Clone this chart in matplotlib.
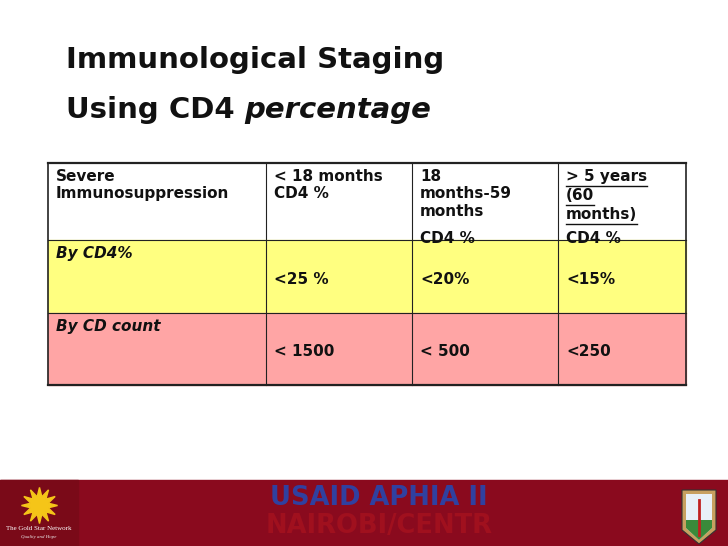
import matplotlib
matplotlib.use("Agg")
import matplotlib.pyplot as plt
from matplotlib.patches import Rectangle, Polygon

title_lines = ["Immunological Staging", "Using CD4 "]
title_italic = "percentage"
header = ["Severe\nImmunosuppression", "< 18 months\nCD4 %", "18\nmonths-59\nmonths"]
header_last = ["> 5 years", "(60", "months)"]
row_labels = ["By CD4%", "By CD count"]
cd4_pct = ["<25 %", "<20%", "<15%"]
cd_count = ["< 1500", "< 500", "<250"]

fig = plt.figure(figsize=(7.28, 5.46), dpi=100)
ax = fig.add_axes([0, 0, 1, 1])
ax.set_xlim(0, 728); ax.set_ylim(546, 0); ax.axis("off")
fn = "DejaVu Sans"
fig.canvas.draw()
r = fig.canvas.get_renderer()
inv = ax.transData.inverted()

def xend(t):
    bb = t.get_window_extent(r)
    return inv.transform((bb.x1, bb.y0))[0]

tk = dict(fontsize=21, fontweight="bold", family=fn, va="center", color="#111")
ax.text(66, 60, title_lines[0], **tk)
t = ax.text(66, 110, title_lines[1], **tk)
ax.text(xend(t), 110, title_italic, style="italic", **tk)

xs = [48, 266, 412, 558, 686]
ys = [163, 240, 313, 385]
ax.add_patch(Rectangle((48, 240), 638, 73, color="#FFFF80", zorder=0))
ax.add_patch(Rectangle((48, 313), 638, 72, color="#FFA5A5", zorder=0))
for x in xs:
    ax.plot([x, x], [163, 385], color="#222", lw=1.2 if x in (48, 686) else 0.8)
for i, y in enumerate(ys):
    ax.plot([48, 686], [y, y], color="#222", lw=1.6 if i in (0, 3) else 0.8)

fs = 11
kw = dict(fontsize=fs, fontweight="bold", family=fn, va="top", linespacing=1.2, color="#111")
for i, h in enumerate(header):
    ax.text(xs[i] + 8, 169, h, **kw)
for i, line in enumerate(header_last):
    t = ax.text(566, 169 + i * 19, line, **kw)
    ax.plot([566, xend(t)], [186 + i * 19, 186 + i * 19], color="#111", lw=1)
ax.text(420, 231, "CD4 %", **kw)
ax.text(566, 231, "CD4 %", **kw)
ax.text(56, 246, row_labels[0], style="italic", **kw)
ax.text(56, 319, row_labels[1], style="italic", **kw)
kc = dict(fontsize=fs, fontweight="bold", family=fn, va="center", color="#111")
for i in range(3):
    ax.text(xs[i+1] + 8, 279, cd4_pct[i], **kc)
    ax.text(xs[i+1] + 8, 351, cd_count[i], **kc)

ax.add_patch(Rectangle((0, 480), 728, 66, color="#8A0A1E", zorder=0))
ax.add_patch(Rectangle((0, 480), 78, 66, color="#7A0A18", zorder=1))
ax.text(379, 498, "USAID APHIA II", fontsize=18.5, fontweight="bold", family=fn, ha="center", va="center", color="#3040A0")
ax.text(379, 526, "NAIROBI/CENTR", fontsize=18.5, fontweight="bold", family=fn, ha="center", va="center", color="#A0101E")
ax.plot([39], [505], marker=(12, 1, 0), markersize=26, color="#F5C518")
ax.text(39, 530, "The Gold Star Network", fontsize=5, family="Liberation Serif", ha="center", color="white")
ax.text(39, 538, "Quality and Hope", fontsize=3.5, style="italic", family="Liberation Serif", ha="center", color="#eee")
ax.add_patch(Polygon([[682, 490], [716, 490], [716, 530], [699, 544], [682, 530]], closed=True, fc="#C8A060", ec="#333", lw=0.8))
ax.add_patch(Polygon([[686, 494], [712, 494], [712, 528], [699, 540], [686, 528]], closed=True, fc="#E8F0F8", ec="none"))
ax.add_patch(Polygon([[686, 520], [712, 520], [712, 528], [699, 540], [686, 528]], closed=True, fc="#3A8A3A", ec="none"))
ax.plot([699, 699], [500, 535], color="#C02020", lw=2)

fig.savefig("out.png", dpi=100)
